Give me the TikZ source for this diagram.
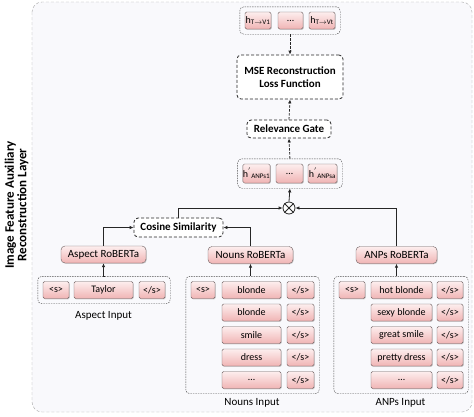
\documentclass[tikz,border=0pt]{standalone}
\usepackage{fontspec}
\setmainfont{Carlito}
\usepackage{tikz}
\usetikzlibrary{arrows.meta,fit,shadows}

\definecolor{tokTop}{RGB}{253,238,238}
\definecolor{tokBot}{RGB}{240,180,180}
\definecolor{tokLine}{RGB}{110,95,95}
\definecolor{frameBg}{RGB}{249,249,252}

\tikzset{
  tok/.style={rectangle, rounded corners=1.5pt, draw=tokLine, top color=tokTop, bottom color=tokBot,
    drop shadow={shadow xshift=0.8pt, shadow yshift=-0.8pt, opacity=0.35},
    inner sep=0pt, minimum height=17, font=\fontsize{10}{11}\selectfont},
  enc/.style={tok, rounded corners=4pt, font=\fontsize{11}{12}\selectfont},
  grp/.style={draw=black!70, dash pattern=on 1.5pt off 1pt, rounded corners=4pt, inner sep=5pt},
  dbox/.style={draw=black!85, thick, dash pattern=on 3pt off 2pt, rounded corners=4pt, fill=white,
    inner sep=0pt, font=\fontsize{11}{13.5}\selectfont\bfseries, align=center},
  lbl/.style={font=\fontsize{11}{12}\selectfont},
  arr/.style={-{Latex[length=4pt,width=3.5pt]}, thick, black!85},
  darr/.style={arr, dash pattern=on 2.5pt off 1.5pt},
}

\begin{document}
\begin{tikzpicture}[x=1pt, y=-1pt]
  \useasboundingbox (0,0) rectangle (474,416);
  \draw[gray!70, dash pattern=on 3pt off 2pt, rounded corners=10pt, fill=frameBg] (32,2) rectangle (472,412);
  \node[rotate=90, align=center, font=\fontsize{13}{12.5}\selectfont\bfseries] (layerLbl) at (16.5,205)
    {Image Feature Auxiliary\\Reconstruction Layer};

  % target features
  \node[tok, minimum width=26] (tv1) at (258,20.5) {h\textsubscript{T$\rightarrow$V1}};
  \node[tok, minimum width=25] (tvd) at (290.5,20.5) {\ldots};
  \node[tok, minimum width=26] (tvt) at (322,20.5) {h\textsubscript{T$\rightarrow$Vt}};
  \node[grp, fit=(tv1)(tvt)] (tgrp) {};

  \node[dbox, minimum width=106, minimum height=44] (mse) at (290,77) {MSE Reconstruction\\Loss Function};
  \node[dbox, minimum width=84, minimum height=18] (gate) at (289,129) {Relevance Gate};

  % reconstructed ANPs features
  \node[tok, minimum width=27, minimum height=19] (ha1) at (256.5,173.5) {h$^{'}$\textsubscript{ANPs1}};
  \node[tok, minimum width=27, minimum height=19] (had) at (289.5,173.5) {\ldots};
  \node[tok, minimum width=29, minimum height=19] (haa) at (322.5,173.5) {h$^{'}$\textsubscript{ANPsa}};
  \node[grp, fit=(ha1)(haa)] (agrp) {};

  \node[circle, draw=black!85, thick, fill=white, minimum size=12, inner sep=0pt] (mul) at (289,208) {};
  \draw[thick, black!85] (mul.north west) -- (mul.south east) (mul.north east) -- (mul.south west);

  \node[dbox, minimum width=89, minimum height=19] (cos) at (178.5,227.5) {Cosine Similarity};

  % encoders
  \node[enc, minimum width=85] (aspRob) at (103.5,254.5) {Aspect RoBERTa};
  \node[enc, minimum width=85] (nounRob) at (250.5,255) {Nouns RoBERTa};
  \node[enc, minimum width=81] (anpRob) at (396.5,255) {ANPs RoBERTa};

  % aspect input
  \node[tok, minimum width=26] (aspS) at (56,290) {<s>};
  \node[tok, minimum width=59] (aspW) at (103.5,290) {Taylor};
  \node[tok, minimum width=26] (aspE) at (152,290) {</s>};
  \node[grp, fit=(aspS)(aspE)] (aspGrp) {};
  \node[lbl] (aspLbl) at (103.5,316) {Aspect Input};

  % nouns and ANPs input
  \node[tok, minimum width=24] (nounS) at (203,290) {<s>};
  \node[tok, minimum width=26] (anpS) at (352,290) {<s>};
  \foreach \w/\a [count=\i] in {blonde/hot blonde, blonde/sexy blonde, smile/great smile, dress/pretty dress, \ldots/\ldots}{
    \node[tok, minimum width=59] (nounW\i) at (251.5,267.5+22.5*\i) {\w};
    \node[tok, minimum width=27] (nounE\i) at (300.5,267.5+22.5*\i) {</s>};
    \node[tok, minimum width=61] (anpW\i) at (401.5,267.5+22.5*\i) {\a};
    \node[tok, minimum width=26] (anpE\i) at (450,267.5+22.5*\i) {</s>};
  }
  \node[grp, fit=(nounS)(nounE1)(nounE5)] (nounGrp) {};
  \node[grp, fit=(anpS)(anpE1)(anpE5)] (anpGrp) {};
  \node[lbl] (nounLbl) at (252,403) {Nouns Input};
  \node[lbl] (anpLbl) at (400.5,403) {ANPs Input};

  % connectors
  \draw[arr] (aspGrp.north) -- (aspGrp.north -| aspRob) -- (aspRob.south);
  \draw[arr] (nounGrp.north -| nounRob) -- (nounRob.south);
  \draw[arr] (anpGrp.north -| anpRob) -- (anpRob.south);
  \draw[arr] (aspRob.north) |- (cos.west);
  \draw[arr] (nounRob.north) |- (cos.east);
  \draw[arr] (cos.north) |- (mul.west);
  \draw[arr] (anpRob.north) |- (mul.east);
  \draw[arr] (mul.north) -- (agrp.south);
  \draw[darr] (agrp.north) -- (gate.south);
  \draw[darr] (gate.north) -- (mse.south);
  \draw[darr] (tgrp.south) -- (mse.north);
\end{tikzpicture}
\end{document}
